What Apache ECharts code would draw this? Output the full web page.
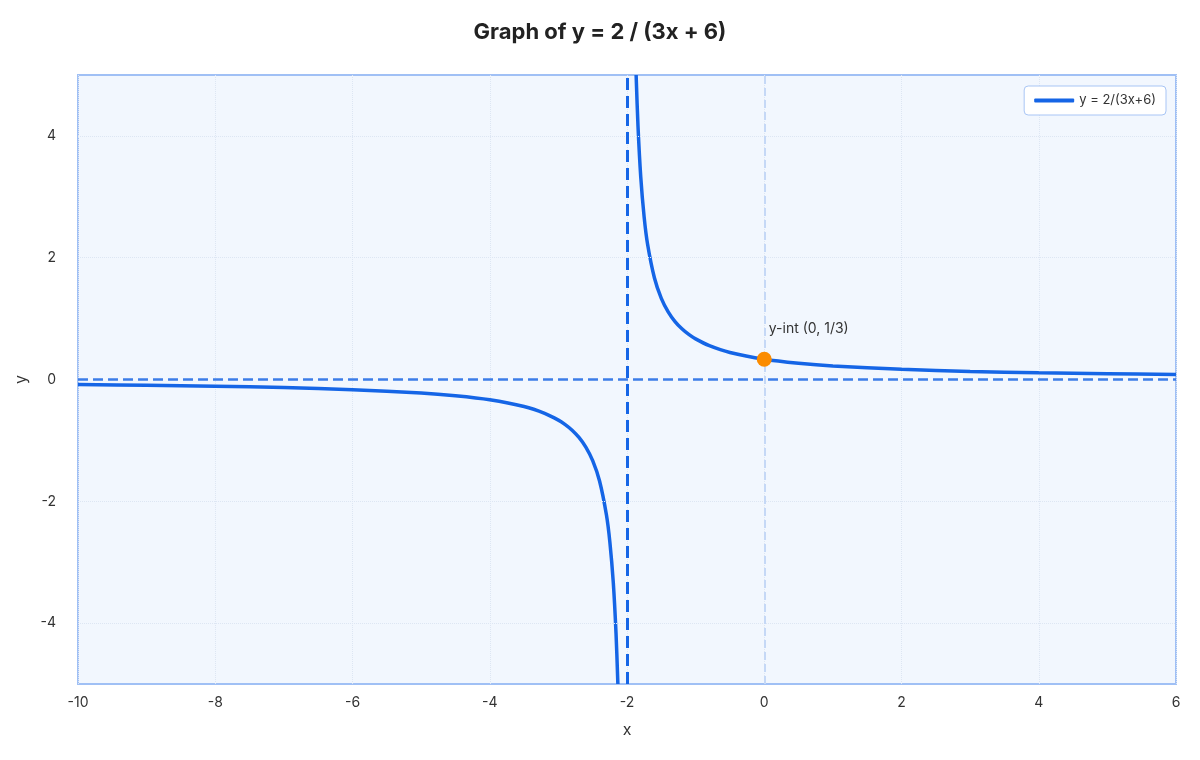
<!DOCTYPE html>
<html lang="en">
  <head>
    <meta charset="UTF-8" />
    <title>Graph of y = 2 / (3x + 6)</title>
    <script src="https://cdn.jsdelivr.net/npm/echarts@6/dist/echarts.min.js"></script>
    <style>
      body { margin: 0; background: #fff; }
      .echarts { width: 1200px; height: 760px; }
    </style>
  </head>
  <body>
    <div class="echarts"></div>
    <script>
      // values
      const leftX = [-10, -9, -8, -7, -6, -5, -4.5, -4, -3.5, -3.2, -3, -2.9, -2.8, -2.7, -2.6, -2.5, -2.4, -2.3, -2.25, -2.2, -2.16, -2.133]
      const leftY = [-0.083, -0.095, -0.111, -0.133, -0.167, -0.222, -0.267, -0.333, -0.444, -0.556, -0.667, -0.741, -0.833, -0.952, -1.111, -1.333, -1.667, -2.222, -2.667, -3.333, -4.167, -5]
      const rightX = [-1.867, -1.84, -1.8, -1.75, -1.7, -1.6, -1.5, -1.4, -1.3, -1.2, -1.1, -1, -0.8, -0.5, 0, 0.5, 1, 2, 3, 4, 5, 6]
      const rightY = [5, 4.167, 3.333, 2.667, 2.222, 1.667, 1.333, 1.111, 0.952, 0.833, 0.741, 0.667, 0.556, 0.444, 0.333, 0.267, 0.222, 0.167, 0.133, 0.111, 0.095, 0.083]
      const yTicks = [-4, -2, 0, 2, 4]
      const yIntercept = [0, 1 / 3]
      const vAsymptote = -2
      const hAsymptote = 0

      const blue = '#1565e6'
      const gridColor = '#dde6f3'
      const pair = (xs, ys) => xs.map((x, i) => [x, ys[i]])
      const chart = echarts.init(document.querySelector('.echarts'))

      chart.setOption({
        backgroundColor: '#fff',
        textStyle: { fontFamily: 'Inter' },
        title: {
          text: 'Graph of y = 2 / (3x + 6)',
          left: 'center', top: 16,
          textStyle: { fontSize: 22, fontWeight: 'bold', color: '#222' }
        },
        legend: {
          data: [{ name: 'y = 2/(3x+6)', icon: 'roundRect' }],
          right: 34, top: 86,
          backgroundColor: '#fff', borderColor: '#a8c5f5', borderWidth: 1, borderRadius: 4,
          padding: [8, 10], itemWidth: 40, itemHeight: 4,
          textStyle: { fontSize: 13, color: '#333' }
        },
        grid: {
          left: 78, right: 24, top: 75, bottom: 76,
          show: true, backgroundColor: '#f2f7fe', borderColor: '#a0c0f5', borderWidth: 2
        },
        xAxis: {
          type: 'value', min: -10, max: 6, interval: 2,
          name: 'x', nameLocation: 'middle', nameGap: 38,
          nameTextStyle: { fontSize: 16, color: '#333' },
          axisLine: { show: false }, axisTick: { show: false },
          axisLabel: { fontSize: 14, color: '#333', margin: 12 },
          splitLine: { lineStyle: { color: gridColor, type: 'dotted' } }
        },
        yAxis: {
          type: 'value', min: -5, max: 5, interval: 1,
          name: 'y', nameLocation: 'middle', nameGap: 40,
          nameTextStyle: { fontSize: 16, color: '#333' },
          axisLine: { show: false }, axisTick: { show: false },
          axisLabel: { fontSize: 14, color: '#333', margin: 22,
            formatter: v => (yTicks.includes(v) ? String(v) : '') },
          splitLine: { show: false }
        },
        series: [
          {
            name: 'y = 2/(3x+6)', type: 'line', smooth: 0.3, showSymbol: false,
            data: pair(leftX, leftY), lineStyle: { color: blue, width: 3.5 }, itemStyle: { color: blue },
            markLine: {
              silent: true, symbol: 'none', label: { show: false },
              data: [
                ...yTicks.filter(v => v !== 0).map(v => ({ yAxis: v, lineStyle: { color: gridColor, type: 'dotted', width: 1 } })),
                { xAxis: 0, lineStyle: { color: '#c5d8f6', type: 'dashed', width: 2 } },
                { xAxis: vAsymptote, lineStyle: { color: blue, type: 'dashed', width: 3 } },
                { yAxis: hAsymptote, lineStyle: { color: '#3d7de8', type: 'dashed', width: 2.5 } }
              ]
            }
          },
          {
            name: 'y = 2/(3x+6)', type: 'line', smooth: 0.3, showSymbol: false,
            data: pair(rightX, rightY), lineStyle: { color: blue, width: 3.5 }, itemStyle: { color: blue }
          },
          {
            type: 'scatter', data: [yIntercept], symbolSize: 15, z: 5,
            itemStyle: { color: '#fb8c00', opacity: 1 },
            label: { show: true, formatter: 'y-int (0, 1/3)', position: [12, -30], fontSize: 14, color: '#333' }
          }
        ]
      })
    </script>
  </body>
</html>
